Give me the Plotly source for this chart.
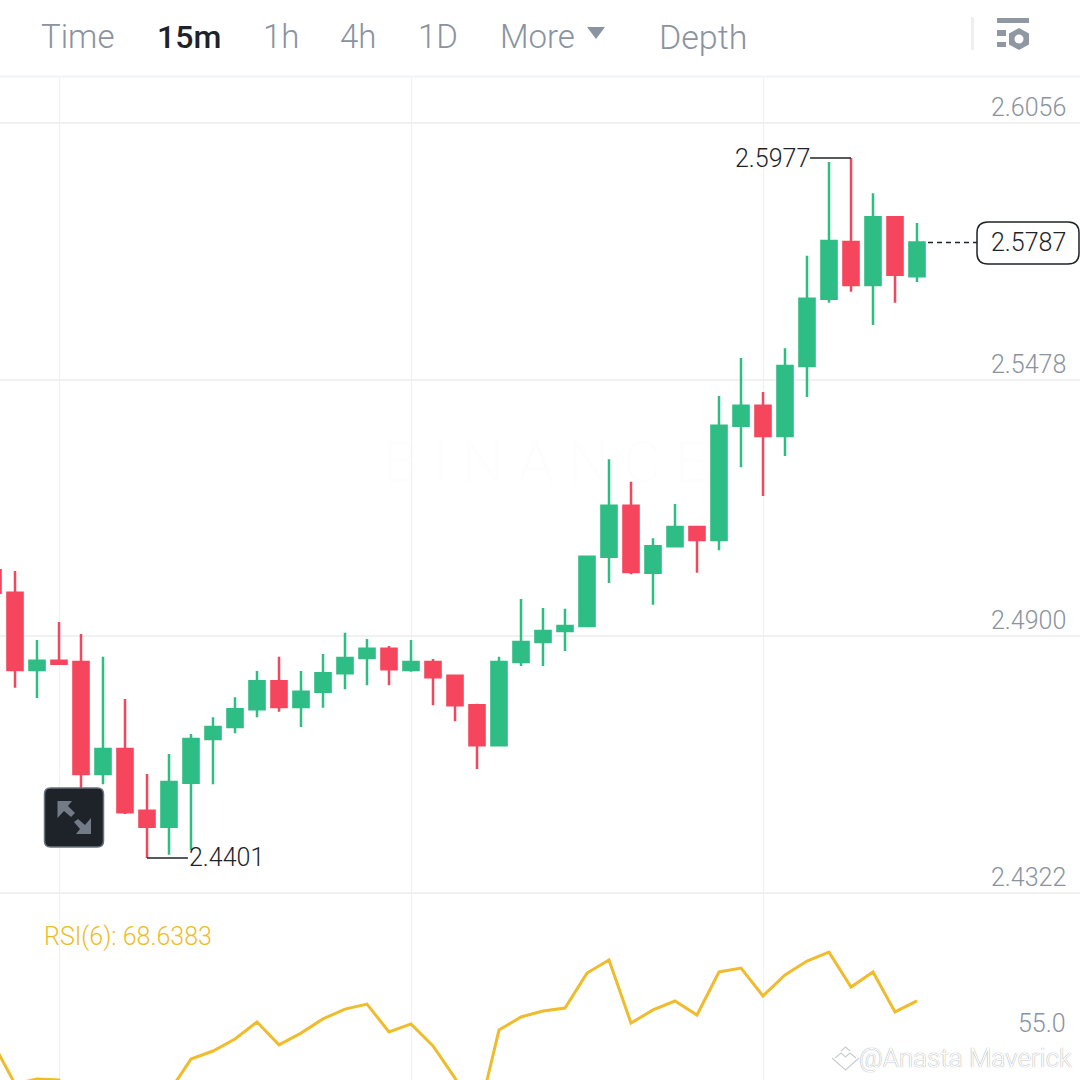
import plotly.graph_objects as go

# ---- data ----
candle_index = list(range(-1, 42))
open_prices = [2.5049,2.4998,2.4824,2.4845,2.4842,2.4590,2.4646,2.4507,2.4471,2.4570,2.4669,2.4696,2.4736,2.4799,2.4741,2.4775,2.4817,2.4851,2.4872,2.4824,2.4842,2.4811,2.4745,2.4655,2.4842,2.4887,2.4912,2.4923,2.5079,2.5194,2.5043,2.5103,2.5146,2.5117,2.5374,2.5419,2.5351,2.5509,2.5660,2.5788,2.5691,2.5844,2.5711]
high_prices = [2.5049,2.5047,2.4892,2.4932,2.4905,2.4854,2.4759,2.4590,2.4635,2.4680,2.4718,2.4763,2.4822,2.4854,2.4822,2.4860,2.4908,2.4894,2.4878,2.4892,2.4849,2.4813,2.4748,2.4854,2.4984,2.4964,2.4962,2.5081,2.5299,2.5248,2.5121,2.5198,2.5146,2.5441,2.5527,2.5450,2.5549,2.5757,2.5968,2.5977,2.5898,2.5844,2.5831]
low_prices = [2.4998,2.4784,2.4761,2.4836,2.4554,2.4567,2.4500,2.4401,2.4408,2.4419,2.4567,2.4682,2.4718,2.4730,2.4696,2.4739,2.4781,2.4790,2.4790,2.4820,2.4745,2.4709,2.4601,2.4655,2.4833,2.4833,2.4867,2.4921,2.5020,2.5040,2.4971,2.5103,2.5043,2.5094,2.5281,2.5216,2.5306,2.5439,2.5651,2.5676,2.5601,2.5651,2.5698]
close_prices = [2.4998,2.4824,2.4845,2.4838,2.4590,2.4646,2.4504,2.4471,2.4572,2.4669,2.4696,2.4736,2.4799,2.4741,2.4775,2.4817,2.4851,2.4872,2.4826,2.4842,2.4808,2.4745,2.4655,2.4842,2.4887,2.4912,2.4923,2.5079,2.5194,2.5045,2.5103,2.5146,2.5117,2.5374,2.5419,2.5351,2.5509,2.5660,2.5790,2.5691,2.5844,2.5714,2.5787]
rsi_values = [53.6,38.9,40.7,40.3,22.4,24.2,15.3,11.7,36.0,47.8,50.7,55.0,61.1,52.9,57.1,62.2,65.7,67.5,57.5,60.4,52.5,41.0,25.3,58.2,62.9,65.0,66.1,78.6,83.3,60.7,65.4,68.6,63.6,79.0,80.4,70.4,77.9,82.9,86.1,73.6,79.0,64.7,68.6383]
price_ticks = [2.4322, 2.4900, 2.5478, 2.6056]
price_tick_labels = ["2.4322", "2.4900", "2.5478", "2.6056"]
time_grid = [2, 18, 34]
rsi_tick = 55.0
high_mark, low_mark, last_price = 2.5977, 2.4401, 2.5787
menu_items = ["Time", "15m", "1h", "4h", "1D", "More", "Depth"]

# ---- styles ----
W = H = 1080
GREEN, RED = "#2EBD85", "#F6465D"
DARK, GRAY = "#1E2329", "#8A93A0"
GRID = "#EFF1F3"
YELLOW = "#EEBC2C"
FONT = "Roboto"

def fx(p): return p / W
def fy(p): return 1 - p / H
def path(points, close=True):
    s = "M " + " L ".join(f"{fx(a):.5f} {fy(b):.5f}" for a, b in points)
    return s + (" Z" if close else "")

# pixel scale of the two panels
x_left = -15 / 22
x_right = (W - 15) / 22
price_per_px = (2.4900 - 2.4322) / 256.67
rsi_per_px = 0.358
panel_split = 896
price_lo = 2.4322 - (panel_split - 893) * price_per_px
price_hi = 2.4322 + (893 - 76) * price_per_px
rsi_lo = rsi_tick - (H - 1039) * rsi_per_px
rsi_hi = rsi_tick + (1039 - panel_split) * rsi_per_px

fig = go.Figure()
fig.add_trace(go.Candlestick(
    x=candle_index, open=open_prices, high=high_prices, low=low_prices, close=close_prices,
    increasing=dict(line=dict(color=GREEN, width=2.5), fillcolor=GREEN),
    decreasing=dict(line=dict(color=RED, width=2.5), fillcolor=RED),
    whiskerwidth=0, xaxis="x", yaxis="y", hoverinfo="skip", showlegend=False))
fig.add_trace(go.Scatter(
    x=candle_index, y=rsi_values, mode="lines", line=dict(color=YELLOW, width=3),
    xaxis="x", yaxis="y2", hoverinfo="skip", showlegend=False))

ann = []
def text(t, x, y, size=25, color=GRAY, anchor="center", weight=300, **kw):
    fnt = dict(family=FONT, size=size, color=color, weight=weight)
    fnt.update(kw.pop("font_extra", {}))
    ann.append(dict(text=t, x=fx(x), y=fy(y), xref="paper", yref="paper", xanchor=anchor,
                    yanchor="middle", showarrow=False, font=fnt, borderpad=0, **kw))

# header
menu_x = [39.5, 155.5, 261.5, 338.5, 416.5, 498.5, 657.5]
menu_size = [33, 32, 33, 33, 33, 33, 34]
for item, x, size in zip(menu_items, menu_x, menu_size):
    if item == "15m":
        text(item, x, 36.5, size, DARK, "left", weight=500)
    else:
        text(item, x, 36.5, size, GRAY, "left", weight=300)

# price labels above their grid lines
LABEL = dict(family=FONT, size=25, color=GRAY, weight=300)
for tick, label in zip(price_ticks, price_tick_labels):
    ann.append(dict(text=label, x=fx(1068), xref="paper", y=tick, yref="y", xanchor="right",
                    yanchor="bottom", yshift=-1, showarrow=False, font=LABEL))
ann.append(dict(text=f"{rsi_tick:.1f}", x=fx(1068), xref="paper", y=rsi_tick, yref="y2", xanchor="right",
                yanchor="bottom", yshift=-1, showarrow=False, font=LABEL))

# callouts
CALL = dict(family=FONT, size=25, color=DARK, weight=300)
ann.append(dict(text=f"{high_mark:.4f}", x=36.14, y=high_mark, xref="x", yref="y", xanchor="right", xshift=2,
                yanchor="middle", showarrow=False, font=CALL))
ann.append(dict(text=f"{low_mark:.4f}", x=7.86, y=low_mark, xref="x", yref="y", xanchor="left", xshift=-1,
                yanchor="middle", showarrow=False, font=CALL))
ann.append(dict(text=f"{last_price:.4f}", x=fx(1028.5), xref="paper", y=last_price, yref="y", xanchor="center",
                yanchor="middle", showarrow=False, font=CALL))

text("RSI(6): 68.6383", 43, 936, 25, YELLOW, "left")
text("@Anasta Maverick", 1073, 1058, 26, "#FFFFFF", "right",
     font_extra=dict(shadow="0 0 1px #6f7680"))
text("B I N A N C E", 545, 462, 58, "rgba(0,0,0,0.008)", "center")

shapes = []
# header band and separators
shapes.append(dict(type="rect", xref="paper", yref="paper", x0=0, x1=1, y0=fy(78), y1=fy(75),
                   fillcolor="#F5F6F7", line_width=0))
shapes.append(dict(type="line", xref="paper", yref="paper", x0=fx(972.5), x1=fx(972.5), y0=fy(17), y1=fy(50),
                   line=dict(color="#EFEFF0", width=3)))
# menu triangle
shapes.append(dict(type="path", xref="paper", yref="paper",
                   path=path([(587, 27), (605, 27), (596, 39)]), fillcolor="#8A93A0", line_width=0))
# settings icon
ICON = "#8F97A3"
for x0, y0, x1, y1 in [(997, 18, 1029, 23), (997, 30, 1006, 36), (997, 42, 1006, 47)]:
    shapes.append(dict(type="rect", xref="paper", yref="paper", x0=fx(x0), x1=fx(x1), y0=fy(y0), y1=fy(y1),
                       fillcolor=ICON, line_width=0))
shapes.append(dict(type="path", xref="paper", yref="paper",
                   path=path([(1019, 28), (1029, 33.5), (1029, 44.5), (1019, 50), (1009, 44.5), (1009, 33.5)]),
                   fillcolor=ICON, line_width=0))
shapes.append(dict(type="circle", xref="paper", yref="paper", x0=fx(1014.5), x1=fx(1023.5), y0=fy(34.5), y1=fy(43.5),
                   fillcolor="white", line_width=0))
# callout leaders (data coordinates)
shapes.append(dict(type="line", xref="x", yref="y", x0=36.14, x1=38, y0=high_mark, y1=high_mark,
                   line=dict(color=DARK, width=1.5)))
shapes.append(dict(type="line", xref="x", yref="y", x0=6, x1=7.86, y0=low_mark, y1=low_mark,
                   line=dict(color=DARK, width=1.5)))
shapes.append(dict(type="line", xref="x", yref="y", x0=41.5, x1=43.8, y0=last_price, y1=last_price,
                   line=dict(color=DARK, width=1.5, dash="5px,4px")))
# last price pill
def rrect(x0, y0, x1, y1, r):
    c = (lambda a, b: f"{fx(a):.5f} {fy(b):.5f}")
    return (f"M {c(x0+r,y0)} L {c(x1-r,y0)} Q {c(x1,y0)} {c(x1,y0+r)} L {c(x1,y1-r)} Q {c(x1,y1)} {c(x1-r,y1)} "
            f"L {c(x0+r,y1)} Q {c(x0,y1)} {c(x0,y1-r)} L {c(x0,y0+r)} Q {c(x0,y0)} {c(x0+r,y0)} Z")
shapes.append(dict(type="path", xref="paper", yref="paper", path=rrect(977, 222, 1079, 264, 11),
                   fillcolor="white", line=dict(color=DARK, width=1.5)))
# expand button
shapes.append(dict(type="path", xref="paper", yref="paper", path=rrect(44.5, 788, 103.5, 847, 6),
                   fillcolor=DARK, line=dict(color="#6B7380", width=1.5)))
BTN = "#737B87"
shapes.append(dict(type="path", xref="paper", yref="paper",
                   path=path([(57.5, 801), (72, 801), (68, 806), (75, 813), (71, 817), (64, 811), (57.5, 818)]),
                   fillcolor=BTN, line_width=0))
shapes.append(dict(type="path", xref="paper", yref="paper",
                   path=path([(91, 834), (76, 834), (80, 829), (74, 822), (78, 819), (85, 825), (91, 818)]),
                   fillcolor=BTN, line_width=0))
# watermark logo
LOGO = "#C9CDD2"
for pts in ([(832, 1058), (845.5, 1070), (859, 1058)],
            [(835, 1058), (841, 1053), (845.5, 1057), (850, 1053), (856, 1058)],
            [(841, 1051), (845.5, 1047), (850, 1051)]):
    shapes.append(dict(type="path", xref="paper", yref="paper", path=path(pts, False),
                       fillcolor="rgba(0,0,0,0)", line=dict(color=LOGO, width=1.2)))

fig.update_layout(
    width=W, height=H, margin=dict(l=0, r=0, t=0, b=0),
    paper_bgcolor="white", plot_bgcolor="white", showlegend=False, boxgap=0.02,
    font=dict(family=FONT),
    xaxis=dict(domain=[0, 1], range=[x_left, x_right], tickvals=time_grid, showticklabels=False,
               showgrid=True, gridcolor=GRID, gridwidth=1, zeroline=False, showline=False, ticks="",
               rangeslider=dict(visible=False), anchor="y2"),
    yaxis=dict(domain=[fy(panel_split), fy(76)], range=[price_lo, price_hi], tickvals=price_ticks,
               showticklabels=False, showgrid=True, gridcolor=GRID, gridwidth=1.5, zeroline=False,
               showline=False, ticks=""),
    yaxis2=dict(domain=[0, fy(panel_split)], range=[rsi_lo, rsi_hi], showticklabels=False, showgrid=False,
                zeroline=False, showline=False, ticks=""),
    annotations=ann, shapes=shapes,
)
fig.write_html("out.html", post_script="document.body.style.margin='0';",
               config=dict(displayModeBar=False))
